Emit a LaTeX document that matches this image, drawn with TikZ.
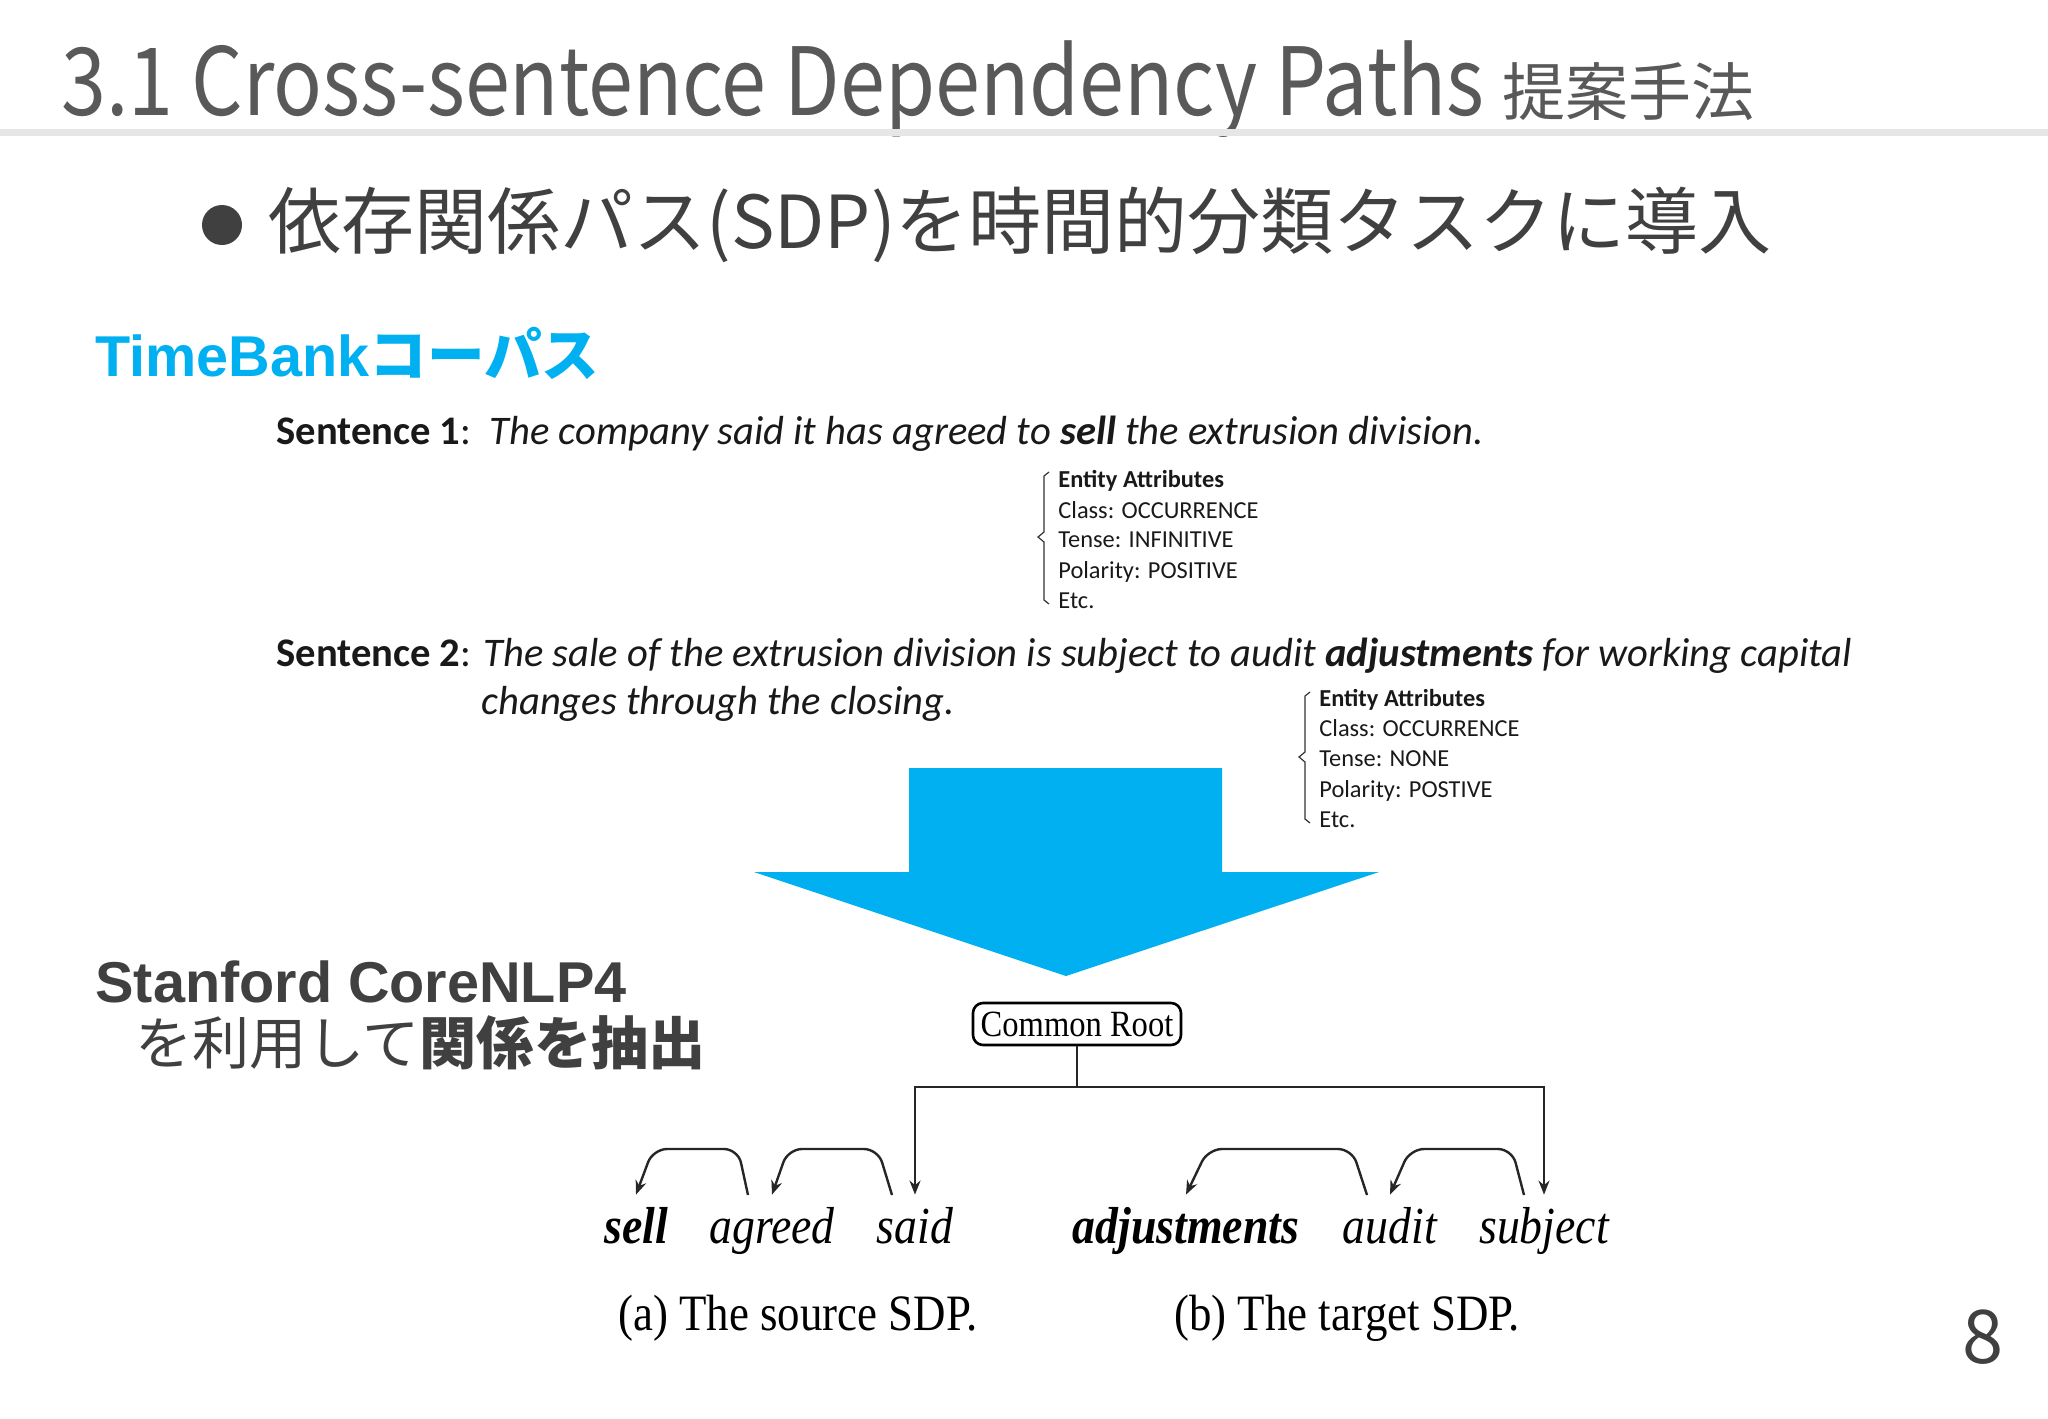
\documentclass[tikz,border=0pt]{standalone}
\usepackage{fontspec}
\setmainfont{Liberation Serif}
\newfontfamily\jpfont{Noto Sans CJK JP}
\newfontfamily\titlefont[FakeStretch=0.86]{Noto Sans CJK JP}
\newfontfamily\arialfont{Liberation Sans}
\newfontfamily\calibfont{Carlito}
\newfontfamily\tmsc[FakeStretch=0.88]{Liberation Serif}
\usetikzlibrary{arrows.meta,calc}
\definecolor{cyanT}{HTML}{00B0F0}
\definecolor{titlegray}{HTML}{595959}
\definecolor{bodygray}{HTML}{404040}
\definecolor{rulegray}{HTML}{E6E6E6}
\tikzset{
  txt/.style={inner sep=0pt, anchor=base west},
  sent/.style={txt, font=\calibfont\fontsize{20.3}{24}\selectfont, text=black!90},
  attr/.style={txt, font=\calibfont\fontsize{12.2}{14}\selectfont, text=black!90},
  word/.style={inner sep=0pt, anchor=base, text height=24pt, font=\tmsc\itshape\fontsize{26}{30}\selectfont},
  capt/.style={inner sep=0pt, anchor=base, font=\tmsc\fontsize{25.5}{30}\selectfont},
  tree/.style={line width=1.2pt, black!85},
  tip/.style={-{Stealth[length=7pt,width=5.5pt]}},
  dep/.style={tree, tip, rounded corners=7pt},
  bracket/.style={line width=0.6pt, black!80},
}
\begin{document}
\begin{tikzpicture}[x=0.5pt,y=-0.5pt]
\useasboundingbox (0,0) rectangle (2048,1418);
% title
\node[txt, text=titlegray, font=\titlefont\fontsize{47}{56}\selectfont] (title) at (61,115) {3.1 Cross-sentence Dependency Paths {\jpfont\fontsize{31.5}{36}\selectfont 提案手法}};
\fill[rulegray] (0,129) rectangle (2048,136);
% bullet line
\fill[bodygray] (222,225) circle (20);
\node[txt, text=bodygray, font=\jpfont\fontsize{36.5}{44}\selectfont] (bullet) at (268,248) {依存関係パス(SDP)を時間的分類タスクに導入};
% TimeBank
\node[txt, text=cyanT, font=\fontsize{28.8}{34}\selectfont] (tb) at (95,376) {\arialfont\bfseries TimeBank\jpfont\bfseries コーパス};
% sentences
\node[sent] (s1) at (276,444) {\textbf{Sentence 1}:\ \ \textit{The company said it has agreed to \textbf{sell} the extrusion division.}};
\node[sent] (s2) at (276,666) {\textbf{Sentence 2}: \textit{The sale of the extrusion division is subject to audit \textbf{adjustments} for working capital}};
\node[sent] (s2b) at (481,714) {\textit{changes through the closing.}};
% attributes 1
\draw[bracket] (1049,472) -- (1044,476) -- (1044,532) -- (1038,537) -- (1044,542) -- (1044,600) -- (1049,604);
\node[attr] (ea1) at (1058,487) {\textbf{Entity Attributes}};
\node[attr] (ea2) at (1058,518) {Class: OCCURRENCE};
\node[attr] (ea3) at (1058,547) {Tense: INFINITIVE};
\node[attr] (ea4) at (1058,578) {Polarity: POSITIVE};
\node[attr] (ea5) at (1058,608) {Etc.};
% attributes 2
\draw[bracket] (1310,692) -- (1305,696) -- (1305,752) -- (1299,757) -- (1305,762) -- (1305,819) -- (1310,823);
\node[attr] (eb1) at (1319,706) {\textbf{Entity Attributes}};
\node[attr] (eb2) at (1319,736) {Class: OCCURRENCE};
\node[attr] (eb3) at (1319,766) {Tense: NONE};
\node[attr] (eb4) at (1319,797) {Polarity: POSTIVE};
\node[attr] (eb5) at (1319,827) {Etc.};
% big arrow
\fill[cyanT] (909,768) -- (1222,768) -- (1222,872) -- (1379,872) -- (1066,976) -- (754,872) -- (909,872) -- cycle;
% Stanford
\node[txt, text=bodygray, font=\arialfont\bfseries\fontsize{28.8}{34}\selectfont] (st1) at (95,1002) {Stanford CoreNLP4};
\node[txt, text=bodygray, font=\jpfont\fontsize{28.6}{34}\selectfont] (st2) at (135,1064) {を利用して\textbf{関係を抽出}};
% tree
\node[draw, line width=1.3pt, rounded corners=5pt, minimum width=104pt, minimum height=21pt, inner sep=0pt, font=\tmsc\fontsize{18.5}{22}\selectfont] (root) at (1077,1024) {Common Root};
\node[word] (sell) at (636,1243) {\textbf{sell}};
\node[word] (agreed) at (772,1243) {agreed};
\node[word] (said) at (915,1243) {said};
\node[word] (adj) at (1186,1243) {\textbf{adjustments}};
\node[word] (audit) at (1390,1243) {audit};
\node[word] (subj) at (1544,1243) {subject};
\coordinate (hub) at (1077,1087);
\draw[tree] (root.south) -- (hub);
\draw[tree, tip] (hub) -| (said.north);
\draw[tree, tip] (hub) -| (subj.north);
\coordinate (t1) at (748,1195);
\coordinate (t2) at (892,1195);
\coordinate (t3) at (1367,1195);
\coordinate (t4) at (1524,1195);
\draw[dep] (t1) -- (738,1149) -- (653,1149) -- (sell.north);
\draw[dep] (t2) -- (878,1149) -- (788,1149) -- (agreed.north);
\draw[dep] (t3) -- (1352,1149) -- (1208,1149) -- (adj.north);
\draw[dep] (t4) -- (1512,1149) -- (1410,1149) -- (audit.north);
\node[capt] (ca) at (798,1330) {(a) The source SDP.};
\node[capt] (cb) at (1347,1330) {(b) The target SDP.};
% page number
\node[inner sep=0pt, text=bodygray, font=\jpfont\fontsize{37}{44}\selectfont, anchor=base] (pg) at (1983,1363) {8};
\end{tikzpicture}
\end{document}
